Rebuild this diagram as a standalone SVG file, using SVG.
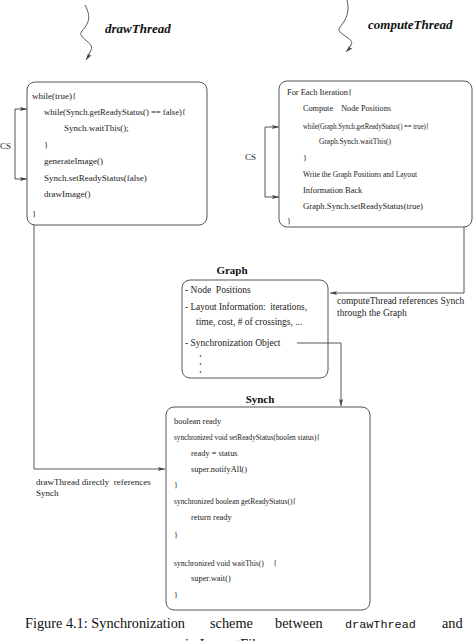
<svg xmlns="http://www.w3.org/2000/svg" width="474" height="641" viewBox="0 0 474 641">
<defs>
<style>
text{white-space:pre}
.t{font-family:"Liberation Serif","Times New Roman",serif;font-size:9px;fill:#222}
.s{font-family:"Liberation Serif","Times New Roman",serif;font-size:8.4px;fill:#222}
.g{font-family:"Liberation Serif","Times New Roman",serif;font-size:9.5px;fill:#222}
.h{font-family:"Liberation Serif","Times New Roman",serif;font-size:11px;font-weight:bold;fill:#111}
.th{font-family:"Liberation Serif","Times New Roman",serif;font-size:13px;font-weight:bold;font-style:italic;fill:#111}
.cap{font-family:"Liberation Serif","Times New Roman",serif;font-size:14.3px;fill:#111}
.tt{font-family:"Liberation Mono","DejaVu Sans Mono",monospace;font-size:11.8px;fill:#111}
.box{fill:#fff;stroke:#555;stroke-width:1}
.ln{fill:none;stroke:#444;stroke-width:0.9}
.sq{fill:none;stroke:#555;stroke-width:1}
.dot{fill:#222}
</style>
<marker id="ah" viewBox="0 0 10 10" refX="10" refY="5" markerWidth="7" markerHeight="7" orient="auto-start-reverse" markerUnits="userSpaceOnUse">
<path d="M0,2 L10,5 L0,8 L2,5 Z" fill="#444"/>
</marker>
</defs>
<rect width="474" height="641" fill="#fff"/>

<g id="drawThread">
<path class="sq" d="M85,5 C92,18 88,24 82,31 C76,38 95,42 91,50 C89,55 88,57 86,60" marker-end="url(#ah)"/>
<text class="th" x="105" y="33">drawThread</text>
</g>

<g id="computeThread">
<path class="sq" d="M347,0 C350,12 346,20 340,27 C334,34 356,38 351,45 C349,48 348,50 346,52" marker-end="url(#ah)"/>
<text class="th" x="368" y="29">computeThread</text>
</g>

<g id="drawBox">
<rect class="box" x="27" y="82" width="180" height="143" rx="8"/>
<text class="t" x="32" y="99">while(true){</text>
<text class="t" x="44" y="115" textLength="142" lengthAdjust="spacingAndGlyphs">while(Synch.getReadyStatus() == false){</text>
<text class="t" x="64" y="131">Synch.waitThis();</text>
<text class="t" x="44" y="148">}</text>
<text class="t" x="44" y="164">generateImage()</text>
<text class="t" x="44" y="181">Synch.setReadyStatus(false)</text>
<text class="t" x="44" y="197">drawImage()</text>
<text class="t" x="32" y="217">}</text>
</g>

<g id="computeBox">
<rect class="box" x="279" y="81" width="193" height="146" rx="8"/>
<text class="s" x="287" y="95">For Each Iteration{</text>
<text class="s" x="303" y="111" textLength="88" lengthAdjust="spacingAndGlyphs">Compute    Node Positions</text>
<text class="s" x="303" y="129" textLength="126" lengthAdjust="spacingAndGlyphs">while(Graph.Synch.getReadyStatus() == true){</text>
<text class="s" x="319" y="144" textLength="72" lengthAdjust="spacingAndGlyphs">Graph.Synch.waitThis()</text>
<text class="s" x="303" y="161">}</text>
<text class="s" x="303" y="177" textLength="114" lengthAdjust="spacingAndGlyphs">Write the Graph Positions and Layout</text>
<text class="s" x="303" y="193">Information Back</text>
<text class="s" x="303" y="209" textLength="120" lengthAdjust="spacingAndGlyphs">Graph.Synch.setReadyStatus(true)</text>
<text class="s" x="287" y="224">}</text>
</g>

<g id="graphBox">
<text class="h" x="232" y="274" text-anchor="middle">Graph</text>
<rect class="box" x="182" y="280" width="146" height="98" rx="8"/>
<text class="g" x="185" y="293">- Node  Positions</text>
<text class="g" x="185" y="310" textLength="122" lengthAdjust="spacingAndGlyphs">- Layout Information:  iterations,</text>
<text class="g" x="196" y="325">time, cost, # of crossings, ...</text>
<text class="g" x="185" y="346">- Synchronization Object</text>
<circle class="dot" cx="200.5" cy="356" r="0.8"/>
<circle class="dot" cx="200.5" cy="364" r="0.8"/>
<circle class="dot" cx="200.5" cy="372" r="0.8"/>
</g>

<g id="synchBox">
<text class="h" x="260" y="403" text-anchor="middle">Synch</text>
<rect class="box" x="166" y="407" width="204" height="203" rx="8"/>
<text class="s" x="174" y="424">boolean ready</text>
<text class="s" x="174" y="440" textLength="146" lengthAdjust="spacingAndGlyphs">synchronized void setReadyStatus(boolen status){</text>
<text class="s" x="191" y="456">ready = status</text>
<text class="s" x="191" y="472">super.notifyAll()</text>
<text class="s" x="174" y="488">}</text>
<text class="s" x="174" y="504" textLength="122" lengthAdjust="spacingAndGlyphs">synchronized boolean getReadyStatus(){</text>
<text class="s" x="191" y="520">return ready</text>
<text class="s" x="174" y="538">}</text>
<text class="s" x="174" y="566" textLength="103" lengthAdjust="spacingAndGlyphs">synchronized void waitThis()     {</text>
<text class="s" x="191" y="581">super.wait()</text>
<text class="s" x="174" y="598">}</text>
</g>

<g id="connectors">
<path class="ln" d="M27,109 L15,109 L15,179 L27,179" marker-start="url(#ah)" marker-end="url(#ah)"/>
<text class="t" x="0" y="149">CS</text>
<path class="ln" d="M279,127 L265,127 L265,197 L279,197" marker-start="url(#ah)" marker-end="url(#ah)"/>
<text class="t" x="245" y="160">CS</text>
<path class="ln" d="M34,225 L34,469 L165,469" marker-end="url(#ah)"/>
<text class="t" x="36" y="485">drawThread directly  references</text>
<text class="t" x="36" y="496">Synch</text>
<path class="ln" d="M464,227 L464,293 L330,293" marker-end="url(#ah)"/>
<text class="g" x="337" y="304">computeThread references Synch</text>
<text class="g" x="337" y="316">through the Graph</text>
<path class="ln" d="M297,343 L341,343 L341,406" marker-end="url(#ah)"/>
</g>

<g id="caption">
<text class="cap" x="25" y="628">Figure 4.1: Synchronization</text>
<text class="cap" x="210" y="628">scheme</text>
<text class="cap" x="275" y="628">between</text>
<text class="tt" x="345" y="628">drawThread</text>
<text class="cap" x="442" y="628">and</text>
<text class="tt" x="93" y="649">computeThread</text>
<text class="cap" x="185" y="649">in LayoutFile.</text>
</g>
</svg>
